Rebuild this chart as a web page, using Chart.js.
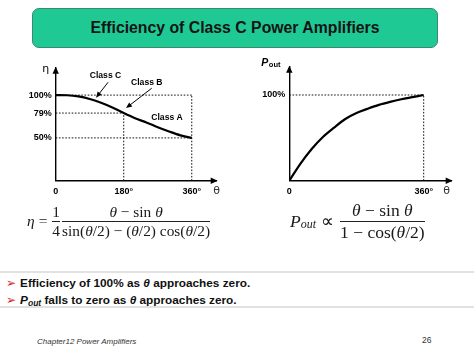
<!DOCTYPE html>
<html>
<head>
<meta charset="utf-8">
<script src="https://cdn.jsdelivr.net/npm/chart.js@4.4.1/dist/chart.umd.min.js"></script>
<style>
  html, body { margin: 0; padding: 0; background: #fff; }
  body { width: 474px; height: 355px; position: relative; overflow: hidden;
         font-family: "Liberation Sans", Arial, sans-serif; color: #111; }
  .title { position: absolute; left: 32px; top: 8px; width: 404px; height: 38px;
           background: #1fc994; border: 1px solid #3a8a6c; border-radius: 7px;
           display: flex; align-items: center; justify-content: center;
           font-weight: bold; font-size: 15.8px; color: #141414; }
  canvas { position: absolute; }
  .formula { position: absolute; display: flex; align-items: center;
             font-family: "Liberation Serif", "Times New Roman", serif; color: #1a1a1a; white-space: nowrap; }
  .frac { display: inline-flex; flex-direction: column; align-items: center; }
  .frac .bar { align-self: stretch; border-top: 1px solid #222; }
  .frac span { line-height: 1.15; }
  .m { font-style: italic; }
  .rule { position: absolute; left: 0; width: 474px; height: 2px; background: #e2e2e2; }
  .bullet { position: absolute; left: 6px; font-weight: bold; font-size: 11.8px; color: #111; white-space: nowrap; }
  .bullet .arw { color: #d42a2a; font-family: "DejaVu Sans", sans-serif; font-size: 12px; margin-right: 4px; }
  .bullet sub { font-size: 8.5px; font-style: italic; vertical-align: -2px; line-height: 0; }
  .footer { position: absolute; font-size: 8px; color: #333; }
</style>
</head>
<body>
<div class="title">Efficiency of Class C Power Amplifiers</div>

<canvas id="etaChart" width="240" height="150" style="left:0px;top:55px;width:240px;height:150px"></canvas>
<canvas id="poutChart" width="234" height="150" style="left:240px;top:55px;width:234px;height:150px"></canvas>

<div class="formula" style="left:27px;top:204px;height:34px;font-size:15.4px;">
  <span class="m" style="margin-right:4px;">η</span><span style="margin-right:5px;">=</span>
  <span class="frac" style="margin-right:2px;"><span>1</span><span class="bar" style="border-top-width:0.8px"></span><span>4</span></span>
  <span class="frac"><span><span class="m">θ</span> − sin <span class="m">θ</span></span><span class="bar"></span><span>sin(<span class="m">θ</span>/2) − (<span class="m">θ</span>/2) cos(<span class="m">θ</span>/2)</span></span>
</div>

<div class="formula" style="left:290px;top:203px;height:36px;font-size:17.5px;">
  <span class="m">P</span><span class="m" style="font-size:12px;position:relative;top:3px;margin-right:5px;">out</span>
  <span style="margin-right:6px;">∝</span>
  <span class="frac"><span><span class="m">θ</span> − sin <span class="m">θ</span></span><span class="bar"></span><span>1 − cos(<span class="m">θ</span>/2)</span></span>
</div>

<div class="rule" style="top:271px;"></div>
<div class="bullet" style="top:276px;"><span class="arw">➢</span>Efficiency of 100% as <i>θ</i> approaches zero.</div>
<div class="bullet" style="top:293px;"><span class="arw">➢</span><i>P</i><sub>out</sub> falls to zero as <i>θ</i> approaches zero.</div>
<div class="rule" style="top:306px;"></div>

<div class="footer" style="left:37px;top:337px;font-style:italic;">Chapter12 Power Amplifiers</div>
<div class="footer" style="left:422px;top:335px;font-size:8.5px;">26</div>

<script>
// Conduction angle samples (degrees) and the two curves
const thetaDeg    = [0, 30, 60, 90, 120, 150, 180, 210, 240, 270, 300, 330, 360];
const etaPercent  = [100, 99.8, 98.5, 95.5, 91, 85.5, 79, 73, 68, 62.5, 57.5, 53, 50];
const poutPercent = [0, 20, 37, 51, 62, 72, 79, 84, 88.5, 92, 95, 97.5, 100];

// Tick values
const etaThetaTicks  = [0, 180, 360];
const etaTicks       = [50, 79, 100];
const poutThetaTicks = [0, 360];
const poutTicks      = [100];

// Dotted guides: [value, theta where the horizontal guide stops] and [theta, value where the vertical guide stops]
const etaGuideH  = [[100, 360], [79, 180], [50, 360]];
const etaGuideV  = [[180, 79], [360, 100]];
const poutGuideH = [[100, 360]];
const poutGuideV = [[360, 100]];

const SANS = '"Liberation Sans", Arial, sans-serif';

function curveSet(values) {
  return {
    data: thetaDeg.map((t, i) => ({ x: t, y: values[i] })),
    borderColor: '#000', borderWidth: 2.2, pointRadius: 0,
    cubicInterpolationMode: 'monotone', fill: false, order: 0
  };
}
function guideSets(hList, vList) {
  const style = { borderColor: '#111', borderWidth: 1, borderDash: [1.6, 1.6], pointRadius: 0, fill: false, order: 1 };
  const out = [];
  hList.forEach(([v, t]) => out.push(Object.assign({ data: [{ x: 0, y: v }, { x: t, y: v }] }, style)));
  vList.forEach(([t, v]) => out.push(Object.assign({ data: [{ x: t, y: 0 }, { x: t, y: v }] }, style)));
  return out;
}

// Axis arrows, axis symbols and text callouts
const axisDecor = {
  id: 'axisDecor',
  afterDraw(chart, args, opts) {
    const ctx = chart.ctx, ca = chart.chartArea;
    const xs = chart.scales.x, ys = chart.scales.y;
    ctx.save();
    ctx.fillStyle = '#000';
    // arrow on the theta axis
    ctx.beginPath();
    ctx.moveTo(ca.right + 1, ca.bottom);
    ctx.lineTo(ca.right - 6, ca.bottom - 3.2);
    ctx.lineTo(ca.right - 6, ca.bottom + 3.2);
    ctx.closePath(); ctx.fill();
    // arrow on the vertical axis
    ctx.beginPath();
    ctx.moveTo(ca.left, ca.top - 1);
    ctx.lineTo(ca.left - 3.2, ca.top + 6);
    ctx.lineTo(ca.left + 3.2, ca.top + 6);
    ctx.closePath(); ctx.fill();

    // theta symbol
    ctx.fillStyle = '#333';
    ctx.font = '11px "DejaVu Sans", sans-serif';
    ctx.textAlign = 'center'; ctx.textBaseline = 'middle';
    ctx.fillText('θ', ca.right + opts.thetaDx, ca.bottom + 10.5);

    // vertical axis symbol
    ctx.fillStyle = '#000';
    if (opts.yLabel === 'eta') {
      ctx.font = '11px "DejaVu Sans", sans-serif';
      ctx.fillText('η', ca.left - 10, ca.top + 1);
    } else {
      ctx.textAlign = 'left';
      ctx.font = 'italic bold 10.5px ' + SANS;
      ctx.fillText('P', ca.left - 28, ca.top - 3.5);
      ctx.font = 'bold 7.5px ' + SANS;
      ctx.fillText('out', ca.left - 20.5, ca.top - 1.5);
    }

    // callouts
    (opts.labels || []).forEach(l => {
      ctx.font = 'bold 8.6px ' + SANS;
      ctx.textAlign = 'center'; ctx.textBaseline = 'middle';
      ctx.fillText(l.text, xs.getPixelForValue(l.at[0]), ys.getPixelForValue(l.at[1]));
    });
    (opts.arrows || []).forEach(a => {
      const x0 = xs.getPixelForValue(a.from[0]), y0 = ys.getPixelForValue(a.from[1]);
      const x1 = xs.getPixelForValue(a.to[0]),   y1 = ys.getPixelForValue(a.to[1]);
      const ang = Math.atan2(y1 - y0, x1 - x0);
      ctx.strokeStyle = '#000'; ctx.lineWidth = 1;
      ctx.beginPath(); ctx.moveTo(x0, y0);
      ctx.lineTo(x1 - 4 * Math.cos(ang), y1 - 4 * Math.sin(ang)); ctx.stroke();
      ctx.beginPath();
      ctx.moveTo(x1, y1);
      ctx.lineTo(x1 - 6 * Math.cos(ang) + 2.6 * Math.sin(ang), y1 - 6 * Math.sin(ang) - 2.6 * Math.cos(ang));
      ctx.lineTo(x1 - 6 * Math.cos(ang) - 2.6 * Math.sin(ang), y1 - 6 * Math.sin(ang) + 2.6 * Math.cos(ang));
      ctx.closePath(); ctx.fill();
    });
    ctx.restore();
  }
};

function makeChart(id, cfg) {
  return new Chart(document.getElementById(id), {
    type: 'line',
    data: { datasets: [curveSet(cfg.values)].concat(guideSets(cfg.guideH, cfg.guideV)) },
    options: {
      responsive: false, animation: false, devicePixelRatio: 1,
      layout: { padding: cfg.padding },
      plugins: { legend: { display: false }, tooltip: { enabled: false }, axisDecor: cfg.decor },
      scales: {
        x: {
          type: 'linear', min: 0, max: cfg.xMax,
          afterBuildTicks: s => { s.ticks = cfg.xTicks.map(v => ({ value: v })); },
          afterFit: s => { s.height = cfg.xHeight; },
          ticks: { callback: v => (v === 0 ? '0' : v + '°'), color: '#000', padding: 5,
                   maxRotation: 0, autoSkip: false, font: { family: SANS, weight: 'bold', size: 9 } },
          grid: { display: false, drawTicks: false },
          border: { display: true, color: '#000', width: 1.4 }
        },
        y: {
          type: 'linear', min: 0, max: cfg.yMax,
          afterBuildTicks: s => { s.ticks = cfg.yTicks.map(v => ({ value: v })); },
          afterFit: s => { s.width = cfg.yWidth; },
          ticks: { callback: v => v + '%', color: '#000', padding: 4, autoSkip: false,
                   font: { family: SANS, weight: 'bold', size: 9 } },
          grid: { display: false, drawTicks: false },
          border: { display: true, color: '#000', width: 1.4 }
        }
      }
    },
    plugins: [axisDecor]
  });
}

makeChart('etaChart', {
  values: etaPercent, guideH: etaGuideH, guideV: etaGuideV,
  xTicks: etaThetaTicks, yTicks: etaTicks, xMax: 426, yMax: 132,
  xHeight: 24.3, yWidth: 55.7,
  padding: { left: 0, top: 12.7, right: 23.3, bottom: 0 },
  decor: {
    yLabel: 'eta', thetaDx: 0,
    labels: [
      { text: 'Class C', at: [131.8, 122.5] },
      { text: 'Class B', at: [241, 114] },
      { text: 'Class A', at: [294.6, 73.2] }
    ],
    arrows: [
      { from: [138.6, 115], to: [106.7, 96.9] },
      { from: [254, 108], to: [186, 84.8] }
    ]
  }
});

makeChart('poutChart', {
  values: poutPercent, guideH: poutGuideH, guideV: poutGuideV,
  xTicks: poutThetaTicks, yTicks: poutTicks, xMax: 435, yMax: 133,
  xHeight: 24.3, yWidth: 49.3,
  padding: { left: 0, top: 11.7, right: 22.3, bottom: 0 },
  decor: { yLabel: 'pout', thetaDx: -5 }
});
</script>
</body>
</html>
